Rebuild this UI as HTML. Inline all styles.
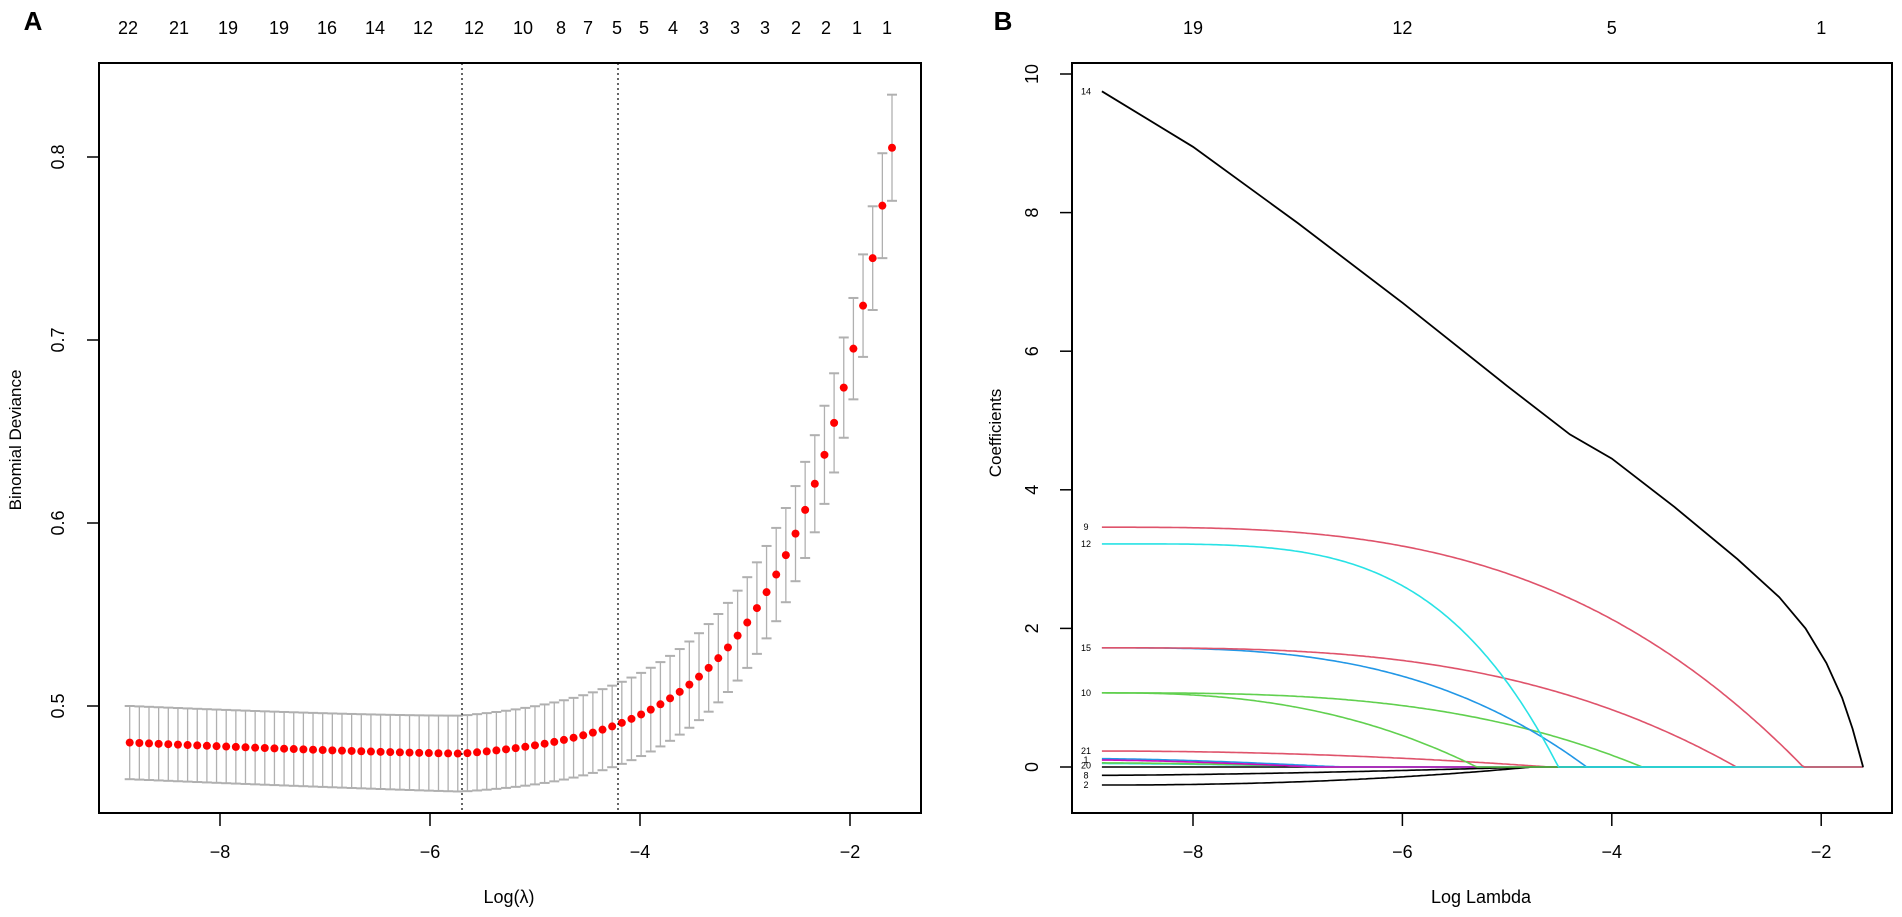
<!DOCTYPE html>
<html><head><meta charset="utf-8"><style>
html,body{margin:0;padding:0;background:#fff;}
svg{display:block;font-family:"Liberation Sans",Arial,sans-serif;}
</style></head><body>
<svg id="s" width="1902" height="917" xmlns="http://www.w3.org/2000/svg">
<rect width="1902" height="917" fill="#fff"/>
<text x="33" y="30" font-size="26" font-weight="bold" text-anchor="middle">A</text>
<text x="1003" y="30" font-size="26" font-weight="bold" text-anchor="middle">B</text>
<g id="ga"></g><g id="gb"></g>
<rect x="99" y="63" width="822" height="750" fill="none" stroke="#000" stroke-width="2"/>
<rect x="1072" y="63" width="820" height="750" fill="none" stroke="#000" stroke-width="2"/>
<line x1="462" y1="63" x2="462" y2="813" stroke="#000" stroke-width="1.2" stroke-dasharray="2,3"/>
<line x1="618" y1="63" x2="618" y2="813" stroke="#000" stroke-width="1.2" stroke-dasharray="2,3"/>
<text x="509" y="903" font-size="18" text-anchor="middle">Log(λ)</text>
<text x="1481" y="903" font-size="18" text-anchor="middle">Log Lambda</text>
<text transform="translate(21,440) rotate(-90)" font-size="17" text-anchor="middle">Binomial Deviance</text>
<text transform="translate(1001,433) rotate(-90)" font-size="17" text-anchor="middle">Coefficients</text>
</svg>
<script>
var NS="http://www.w3.org/2000/svg";
function el(p,t,a,txt){var e=document.createElementNS(NS,t);for(var k in a)e.setAttribute(k,a[k]);if(txt!=null)e.textContent=txt;p.appendChild(e);return e;}
var s=document.getElementById('s'),ga=document.getElementById('ga'),gb=document.getElementById('gb');
// Panel A
function xA(L){return 430+(L+6)*105;}
function yA(v){return 706-(v-0.5)*1830;}
[-8,-6,-4,-2].forEach(function(L){var x=xA(L);el(s,'line',{x1:x,y1:813,x2:x,y2:826,stroke:'#000','stroke-width':1.5});el(s,'text',{x:x,y:858,'font-size':18,'text-anchor':'middle'},'\u2212'+(-L));});
[0.5,0.6,0.7,0.8].forEach(function(v){var y=yA(v);el(s,'line',{x1:87,y1:y,x2:99,y2:y,stroke:'#000','stroke-width':1.5});el(s,'text',{transform:'translate(64,'+y+') rotate(-90)','font-size':18,'text-anchor':'middle'},v.toFixed(1));});
var N=80,L0=-8.86,L1=-1.6;
for(var i=0;i<N;i++){var L=L0+(L1-L0)*i/(N-1);var d;
 if(L<-5.7){d=0.474+0.006*Math.pow((-5.7-L)/3.16,1.3);} else {d=0.474+0.004*(Math.exp(1.08*(L+5.7))-1);}
 var se=0.02+0.009*Math.pow((L-L0)/(L1-L0),3);
 var x=xA(L);
 el(ga,'line',{x1:x,y1:yA(d+se),x2:x,y2:yA(d-se),stroke:'#b0b0b0','stroke-width':1.3});
 el(ga,'line',{x1:x-5,y1:yA(d+se),x2:x+5,y2:yA(d+se),stroke:'#b0b0b0','stroke-width':2});
 el(ga,'line',{x1:x-5,y1:yA(d-se),x2:x+5,y2:yA(d-se),stroke:'#b0b0b0','stroke-width':2});
 el(ga,'circle',{cx:x,cy:yA(d),r:4,fill:'#f00'});}
var topA=[[128,'22'],[179,'21'],[228,'19'],[279,'19'],[327,'16'],[375,'14'],[423,'12'],[474,'12'],[523,'10'],[561,'8'],[588,'7'],[617,'5'],[644,'5'],[673,'4'],[704,'3'],[735,'3'],[765,'3'],[796,'2'],[826,'2'],[857,'1'],[887,'1']];
topA.forEach(function(t){el(s,'text',{x:t[0],y:34,'font-size':18,'text-anchor':'middle'},t[1]);});
// Panel B
function xB(L){return 1193+(L+8)*104.7;}
function yB(c){return 767-69.3*c;}
[-8,-6,-4,-2].forEach(function(L){var x=xB(L);el(s,'line',{x1:x,y1:813,x2:x,y2:826,stroke:'#000','stroke-width':1.5});el(s,'text',{x:x,y:858,'font-size':18,'text-anchor':'middle'},'\u2212'+(-L));});
[0,2,4,6,8,10].forEach(function(c){var y=yB(c);el(s,'line',{x1:1060,y1:y,x2:1072,y2:y,stroke:'#000','stroke-width':1.5});el(s,'text',{transform:'translate(1038,'+y+') rotate(-90)','font-size':18,'text-anchor':'middle'},''+c);});
[[-8,'19'],[-6,'12'],[-4,'5'],[-2,'1']].forEach(function(t){el(s,'text',{x:xB(t[0]),y:34,'font-size':18,'text-anchor':'middle'},t[1]);});
var B0=-8.87,B1=-1.6;
function path(f,col,w){var d='';for(var i=0;i<=300;i++){var L=B0+(B1-B0)*i/300;d+=(i?'L':'M')+xB(L).toFixed(1)+' '+yB(f(L)).toFixed(1);}el(gb,'path',{d:d,fill:'none',stroke:col,'stroke-width':w||1.6});}
function shr(c0,Le,p){return function(L){if(L>=Le)return 0;var t=(L-B0)/(Le-B0);return c0*(1-Math.pow(t,p));};}
var cr='#DF536B',gr='#61D04F',bl='#2297E6',cy='#28E2E5',mg='#CD0BBC';
path(function(){return 0;},'#000');
path(shr(0.05,-6.5,1.5),cy);
path(shr(0.06,-6.6,1.5),gr);
path(shr(0.12,-6.6,1.5),bl);
path(shr(0.1,-6.85,1.5),mg);
path(shr(0.23,-4.6,2),cr);
path(shr(-0.12,-4.76,1.5),'#000');
path(shr(-0.26,-4.76,2.2),'#000');
path(shr(1.07,-5.29,2.5),gr);
path(shr(1.07,-3.71,3),gr);
path(shr(1.72,-4.24,3),bl);
path(shr(1.72,-2.81,3),cr);
path(shr(3.22,-4.51,4),cy);
path(shr(3.46,-2.17,3),cr);
var P=[[-8.87,9.75],[-8,8.95],[-7,7.85],[-6,6.7],[-5,5.5],[-4.4,4.8],[-4,4.45],[-3.4,3.75],[-2.8,3.0],[-2.4,2.45],[-2.15,2.0],[-1.95,1.5],[-1.8,1.0],[-1.7,0.55],[-1.6,0]];
var d='';P.forEach(function(p,i){d+=(i?'L':'M')+xB(p[0]).toFixed(1)+' '+yB(p[1]).toFixed(1);});
el(gb,'path',{d:d,fill:'none',stroke:'#000','stroke-width':1.8});
[['14',9.75],['9',3.46],['12',3.22],['15',1.72],['10',1.07],['21',0.23],['20',0.02],['1',0.1],['8',-0.12],['2',-0.26]].forEach(function(t){el(s,'text',{x:1086,y:yB(t[1])+3,'font-size':9,'text-anchor':'middle'},t[0]);});
</script>
</body></html>
